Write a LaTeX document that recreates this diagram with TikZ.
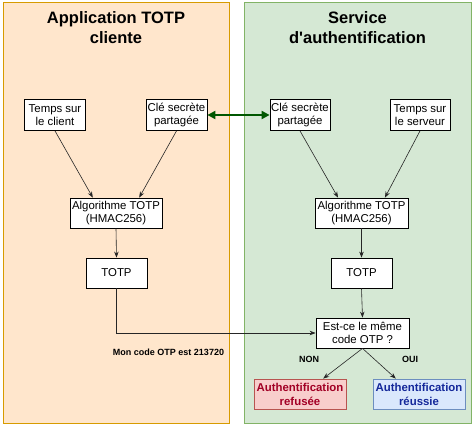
\documentclass[tikz,border=0pt]{standalone}
\usepackage{fontspec}
\setmainfont{Liberation Sans}
\newfontfamily\plainsans{Liberation Sans}
\usetikzlibrary{arrows.meta,calc}
\definecolor{orfill}{HTML}{FFE6CC}
\definecolor{ordraw}{HTML}{D79B00}
\definecolor{grfill}{HTML}{D5E8D4}
\definecolor{grdraw}{HTML}{82B366}
\definecolor{rdfill}{HTML}{F8CECC}
\definecolor{rddraw}{HTML}{B85450}
\definecolor{rdtext}{HTML}{A20025}
\definecolor{blfill}{HTML}{DAE8FC}
\definecolor{bldraw}{HTML}{6C8EBF}
\definecolor{bltext}{HTML}{14289A}
\definecolor{darkgr}{HTML}{005700}
\begin{document}
\begin{tikzpicture}[x=1pt,y=-1pt,
  box/.style={draw=black,fill=white,line width=0.8pt,inner sep=0pt,align=center,
    font=\fontsize{11.4}{13}\selectfont},
  outcome/.style={box,font=\fontsize{11.4}{14}\selectfont\bfseries,minimum width=92pt,minimum height=30pt},
  panel/.style={line width=0.9pt},
  title/.style={align=center,font=\plainsans\fontsize{16.5}{20}\selectfont\bfseries},
  lbl/.style={font=\fontsize{9}{11}\selectfont\bfseries,inner sep=0pt},
  arr/.style={draw=black!85,line width=0.6pt,-{Stealth[length=6pt,width=4.5pt]}}
]
\useasboundingbox (0,0) rectangle (474,427);
\fill[white] (0,0) rectangle (474,427);
\draw[panel,fill=orfill,draw=ordraw] (3,2) rectangle (229,423);
\draw[panel,fill=grfill,draw=grdraw] (244,2) rectangle (471,423);
\node[title] (tA) at (116,28) {Application TOTP\\cliente};
\node[title] (tB) at (357.5,28) {Service\\d'authentification};

\node[box,minimum width=61pt,minimum height=31pt] (tc) at (55,115) {Temps sur\\le client};
\node[box,minimum width=61pt,minimum height=31pt] (kl) at (176.5,115) {Clé secrète\\partagée};
\node[box,minimum width=60pt,minimum height=31pt] (kr) at (300,115) {Clé secrète\\partagée};
\node[box,minimum width=60pt,minimum height=31pt] (ts) at (420,115) {Temps sur\\le serveur};
\node[box,minimum width=92pt,minimum height=30pt] (al) at (116,213) {Algorithme TOTP\\(HMAC256)};
\node[box,minimum width=93pt,minimum height=30pt] (ar) at (361.5,213) {Algorithme TOTP\\(HMAC256)};
\node[box,minimum width=61pt,minimum height=30pt] (tl) at (116.5,273) {TOTP};
\node[box,minimum width=61pt,minimum height=30pt] (tr) at (361.5,273) {TOTP};
\node[box,minimum width=93pt,minimum height=30pt] (q) at (362.5,333) {Est-ce le même\\code OTP ?};
\node[outcome,fill=rdfill,draw=rddraw,text=rdtext] (ref) at (300,394) {Authentification\\refusée};
\node[outcome,fill=blfill,draw=bldraw,text=bltext] (ok) at (419,394) {Authentification\\réussie};

\node[lbl] (msg) at (168.5,352) {Mon code OTP est 213720};
\node[lbl] (non) at (309,359) {NON};
\node[lbl] (oui) at (410,359) {OUI};

\draw[darkgr,line width=2pt,{Triangle[length=8pt,width=8pt]}-{Triangle[length=8pt,width=8pt]}] (kl.east) -- (kr.west);

\draw[arr] (tc.south) -- ($(al.north west)!0.25!(al.north east)$);
\draw[arr] (kl.south) -- ($(al.north west)!0.75!(al.north east)$);
\draw[arr] (kr.south) -- ($(ar.north west)!0.25!(ar.north east)$);
\draw[arr] (ts.south) -- ($(ar.north west)!0.75!(ar.north east)$);
\draw[arr] (al.south) -- (tl.north);
\draw[arr] (ar.south) -- (tr.north);
\draw[arr] (tr.south) -- (q.north);
\draw[arr] (tl.south) |- (q.west);
\draw[arr] (q.south) -- ($(ref.north west)!0.75!(ref.north east)$);
\draw[arr] (q.south) -- ($(ok.north west)!0.25!(ok.north east)$);
\end{tikzpicture}
\end{document}
